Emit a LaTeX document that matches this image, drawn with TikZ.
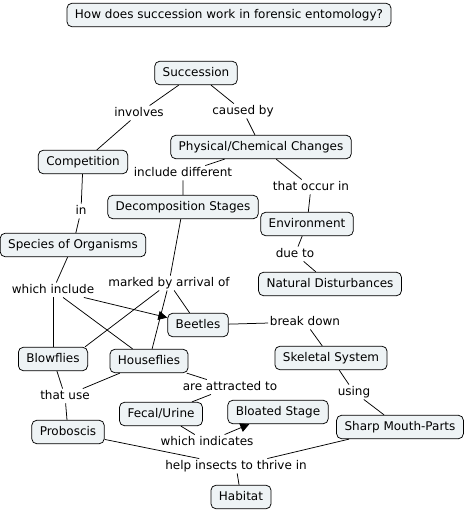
\documentclass[tikz,border=0pt]{standalone}
\usepackage{fontspec}
\setmainfont{DejaVu Sans}
\usetikzlibrary{arrows.meta}
\definecolor{nodefill}{HTML}{EEF3F5}
\begin{document}
\begin{tikzpicture}[x=1pt,y=-1pt,
  concept/.style={draw=black, fill=nodefill, rounded corners=5pt, inner xsep=8pt, inner ysep=6pt,
    text height=9pt, text depth=2.5pt, line width=0.75pt, font=\fontsize{12}{14}\selectfont},
  lbl/.style={inner sep=1.5pt, text height=9pt, text depth=2.5pt, font=\fontsize{12}{14}\selectfont},
  link/.style={line width=0.75pt},
  arr/.style={link, -{Triangle[length=9pt,width=9pt]}}]
\useasboundingbox (0,0) rectangle (467,511);
% concepts
\node[concept] (title) at (229,15) {How does succession work in forensic entomology?};
\node[concept] (succ) at (196,73) {Succession};
\node[concept] (comp) at (83,162) {Competition};
\node[concept] (phys) at (261,147) {Physical/Chemical Changes};
\node[concept] (dec) at (183,207) {Decomposition Stages};
\node[concept] (env) at (307,224) {Environment};
\node[concept] (spec) at (73,245) {Species of Organisms};
\node[concept] (nd) at (330,284) {Natural Disturbances};
\node[concept] (bee) at (198,325) {Beetles};
\node[concept] (bf) at (53,359) {Blowflies};
\node[concept] (hf) at (149,361) {Houseflies};
\node[concept] (skel) at (331,358) {Skeletal System};
\node[concept] (fec) at (161,414) {Fecal/Urine};
\node[concept] (bloat) at (278,412) {Bloated Stage};
\node[concept] (prob) at (68,432) {Proboscis};
\node[concept] (sharp) at (400,427) {Sharp Mouth-Parts};
\node[concept] (hab) at (241,497) {Habitat};
% labels
\node[lbl] (inv) at (139,113) {involves};
\node[lbl] (cby) at (243,111) {caused by};
\node[lbl] (incl) at (183,173) {include different};
\node[lbl] (toi) at (311,187) {that occur in};
\node[lbl] (in) at (81,211) {in};
\node[lbl] (due) at (295,254) {due to};
\node[lbl] (wi) at (53,290) {which include};
\node[lbl] (mba) at (169,283) {marked by arrival of};
\node[lbl] (bd) at (305,322) {break down};
\node[lbl] (tu) at (65,396) {that use};
\node[lbl] (ata) at (230,387) {are attracted to};
\node[lbl] (using) at (354,392) {using};
\node[lbl] (wind) at (207,442) {which indicates};
\node[lbl] (help) at (236,466) {help insects to thrive in};
% connectors
\draw[link] (succ) -- (inv) -- (comp);
\draw[link] (succ) -- (cby) -- (phys);
\draw[link] (phys) -- (incl) -- (dec);
\draw[link] (phys) -- (toi) -- (env);
\draw[link] (comp) -- (in) -- (spec);
\draw[link] (env) -- (due) -- (nd);
\draw[link] (spec) -- (wi);
\draw[link] (wi) -- (bf);
\draw[link] (wi) -- (hf);
\draw[arr] (wi) -- (bee);
\draw[link] (dec) -- (mba) -- (hf);
\draw[link] (mba) -- ([xshift=-3pt]bf.north east);
\draw[link] (mba) -- (bee);
\draw[link] (bee) -- (bd) -- (skel);
\draw[link] (skel) -- (using) -- (sharp);
\draw[link] (bf) -- (tu);
\draw[link] (hf) -- (tu);
\draw[link] (tu) -- (prob);
\draw[link] (hf) -- (ata) -- (fec);
\draw[link] (fec) -- (wind);
\draw[arr] (wind) -- (bloat);
\draw[link] (prob) -- (help);
\draw[link] (sharp) -- (help);
\draw[link] (help) -- (hab);
\end{tikzpicture}
\end{document}
